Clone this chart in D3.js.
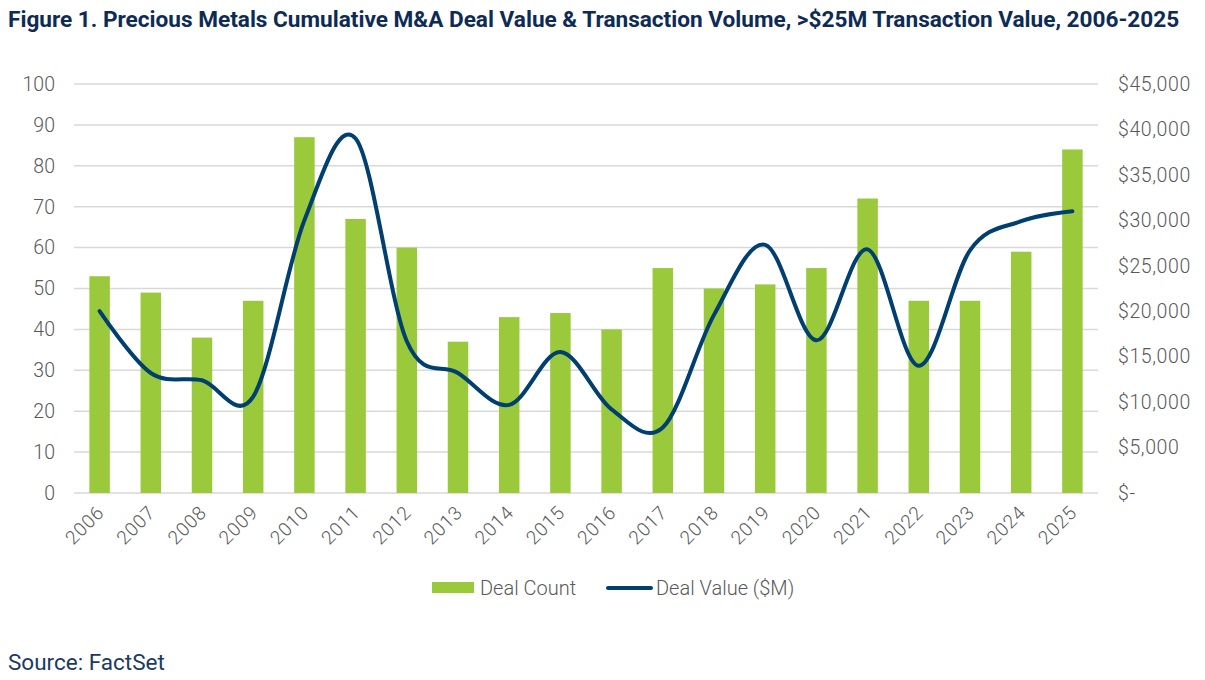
<!DOCTYPE html>
<html>
<head>
<meta charset="utf-8">
<script src="https://cdn.jsdelivr.net/npm/d3@7"></script>
<style>
  body { margin: 0; background: #fff; }
  svg { font-family: Roboto, "Noto Sans", sans-serif; }
</style>
</head>
<body>
<div id="chart"></div>
<script>
// Chart data
const years = ["2006","2007","2008","2009","2010","2011","2012","2013","2014","2015",
               "2016","2017","2018","2019","2020","2021","2022","2023","2024","2025"];
const dealCount = [53, 49, 38, 47, 87, 67, 60, 37, 43, 44, 40, 55, 50, 51, 55, 72, 47, 47, 59, 84];
const dealValue = [20000, 13200, 12400, 10600, 30000, 39000, 16700, 13200, 9700, 15500,
                   9200, 7200, 19600, 27300, 16800, 26800, 14000, 26700, 29900, 31000];
const leftTicks = [0, 10, 20, 30, 40, 50, 60, 70, 80, 90, 100];
const rightTicks = [0, 5000, 10000, 15000, 20000, 25000, 30000, 35000, 40000, 45000];

const width = 1205;
const height = 680;
const margin = { top: 84, right: 107, bottom: 187, left: 74 };

const svg = d3.select("#chart")
  .append("svg")
  .attr("width", width)
  .attr("height", height);

// Title
svg.append("text")
  .attr("x", 8)
  .attr("y", 27)
  .style("font-size", "22.6px")
  .style("font-weight", "bold")
  .style("fill", "#0d2b55")
  .text("Figure 1. Precious Metals Cumulative M&A Deal Value & Transaction Volume, >$25M Transaction Value, 2006-2025");

// Scales
const x = d3.scaleBand()
  .domain(years)
  .range([margin.left, width - margin.right])
  .paddingInner(0.6)
  .paddingOuter(0.3);

const yLeft = d3.scaleLinear()
  .domain([0, 100])
  .range([height - margin.bottom, margin.top]);

const yRight = d3.scaleLinear()
  .domain([0, 45000])
  .range([height - margin.bottom, margin.top]);

// Gridlines
svg.append("g")
  .selectAll("line")
  .data(leftTicks)
  .enter()
  .append("line")
  .attr("x1", margin.left)
  .attr("x2", width - margin.right)
  .attr("y1", d => yLeft(d))
  .attr("y2", d => yLeft(d))
  .style("stroke", "#d9d9d9")
  .style("stroke-width", 1.5);

// Left axis labels
svg.append("g")
  .selectAll("text")
  .data(leftTicks)
  .enter()
  .append("text")
  .attr("x", 55)
  .attr("y", d => yLeft(d))
  .attr("dy", "0.35em")
  .attr("text-anchor", "end")
  .style("font-size", "19.5px")
  .style("font-weight", 300)
  .style("fill", "#595959")
  .text(d => d);

// Right axis labels
const moneyFmt = d3.format(",");
svg.append("g")
  .selectAll("text")
  .data(rightTicks)
  .enter()
  .append("text")
  .attr("x", 1118)
  .attr("y", d => yRight(d))
  .attr("dy", "0.35em")
  .attr("text-anchor", "start")
  .style("font-size", "19.5px")
  .style("font-weight", 300)
  .style("letter-spacing", "0.6px")
  .style("fill", "#595959")
  .text(d => d === 0 ? "$-" : "$" + moneyFmt(d));

// Bars
svg.append("g")
  .selectAll("rect")
  .data(years)
  .enter()
  .append("rect")
  .attr("x", d => x(d))
  .attr("width", x.bandwidth())
  .attr("y", (d, i) => yLeft(dealCount[i]))
  .attr("height", (d, i) => yLeft(0) - yLeft(dealCount[i]))
  .style("fill", "#9aca3c");

// Smoothed line
const line = d3.line()
  .x((d, i) => x(years[i]) + x.bandwidth() / 2)
  .y(d => yRight(d))
  .curve(d3.curveCardinal.tension(0));

svg.append("path")
  .datum(dealValue)
  .attr("d", line)
  .style("fill", "none")
  .style("stroke", "#003f6f")
  .style("stroke-width", 4)
  .style("stroke-linecap", "round");

// X labels (rotated)
svg.append("g")
  .selectAll("text")
  .data(years)
  .enter()
  .append("text")
  .attr("transform", d => "translate(" + (x(d) + x.bandwidth() / 2 + 1) + "," + (yLeft(0) + 16) + ") rotate(-45)")
  .attr("text-anchor", "end")
  .attr("dy", "0.35em")
  .style("font-size", "19px")
  .style("font-weight", 300)
  .style("letter-spacing", "0.8px")
  .style("fill", "#595959")
  .text(d => d);

// Legend
const legend = svg.append("g");
legend.append("rect")
  .attr("x", 432)
  .attr("y", 582)
  .attr("width", 42)
  .attr("height", 11)
  .style("fill", "#9aca3c");
legend.append("text")
  .attr("x", 480)
  .attr("y", 588)
  .attr("dy", "0.35em")
  .style("font-size", "20px")
  .style("font-weight", 300)
  .style("fill", "#595959")
  .text("Deal Count");
legend.append("line")
  .attr("x1", 608)
  .attr("x2", 651)
  .attr("y1", 588)
  .attr("y2", 588)
  .style("stroke", "#003f6f")
  .style("stroke-width", 4)
  .style("stroke-linecap", "round");
legend.append("text")
  .attr("x", 656)
  .attr("y", 588)
  .attr("dy", "0.35em")
  .style("font-size", "20px")
  .style("font-weight", 300)
  .style("fill", "#595959")
  .text("Deal Value ($M)");

// Source
svg.append("text")
  .attr("x", 8)
  .attr("y", 670)
  .style("font-size", "22.5px")
  .style("fill", "#1a3a63")
  .text("Source: FactSet");
</script>
</body>
</html>
